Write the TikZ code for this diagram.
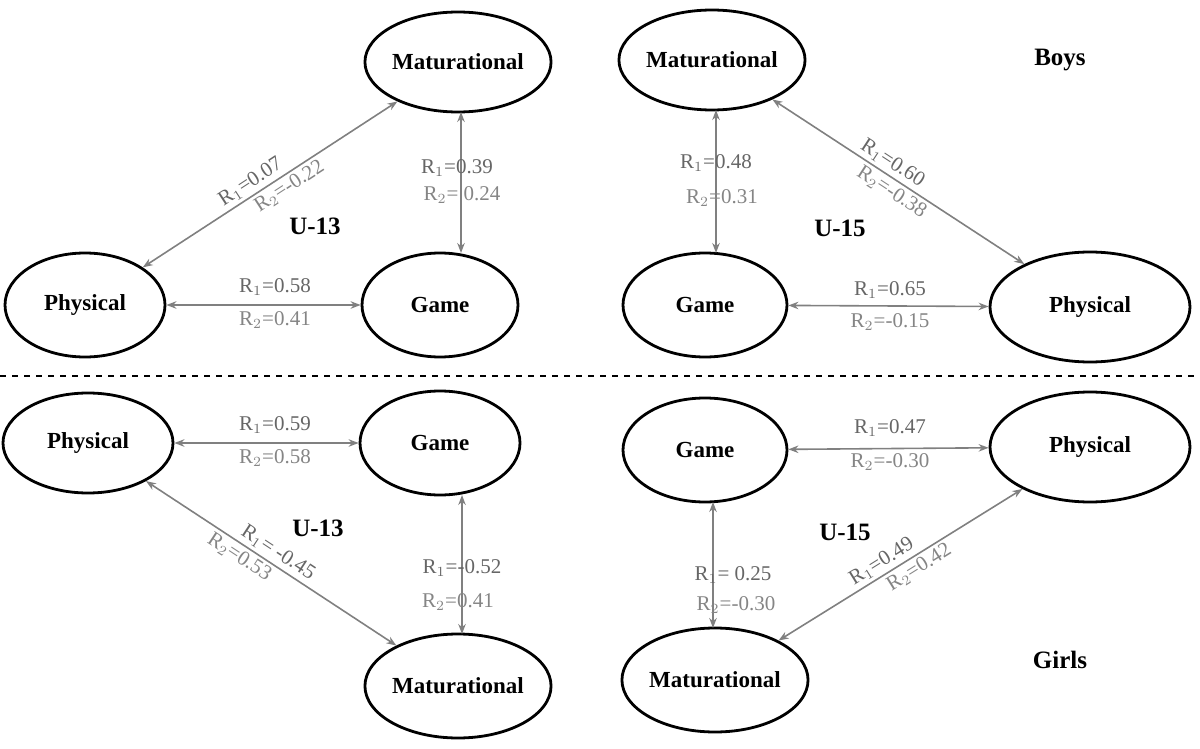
\documentclass[tikz,border=0pt]{standalone}
\usepackage{fontspec}
\setmainfont{Liberation Serif}
\usetikzlibrary{shapes.geometric,arrows.meta}
\begin{document}
\begin{tikzpicture}[x=0.5pt,y=-0.5pt,
  ell/.style={draw,line width=1.4pt,ellipse,inner sep=0pt,font=\fontsize{11.5}{13}\selectfont\bfseries},
  lnk/.style={draw=gray,line width=0.8pt,{Stealth[length=5pt]}-{Stealth[length=5pt]}},
  ra/.style={text=black!60,font=\fontsize{10.5}{12}\selectfont,inner sep=1.5pt},
  rb/.style={text=black!48,font=\fontsize{10.5}{12}\selectfont,inner sep=1.5pt},
  grp/.style={font=\fontsize{12.5}{14}\selectfont\bfseries}]
\useasboundingbox (0,0) rectangle (1200,749);
% Boys U-13
\node[ell,minimum width=88pt,minimum height=50pt] (m1) at (458,62) {Maturational};
\node[ell,minimum width=80pt,minimum height=52pt] (p1) at (85,305) {Physical};
\node[ell,minimum width=78pt,minimum height=52pt] (g1) at (440,305) {Game};
\draw[lnk] (p1) -- node[ra,sloped,above,pos=0.45] (a1) {R$_1$=0.07} node[rb,sloped,below,pos=0.55] (b1) {R$_2$=-0.22} (m1);
\draw[lnk] (p1) -- (g1);
\coordinate (m1b) at (461,112); \coordinate (g1t) at (461,253);
\draw[lnk] (m1b) -- (g1t);
\node[ra] (a2) at (457,168) {R$_1$=0.39};
\node[rb] (b2) at (462,195) {R$_2$= 0.24};
\node[ra] (a3) at (275,287) {R$_1$=0.58};
\node[rb] (b3) at (275,320) {R$_2$=0.41};
\node[grp] (u1) at (315,226) {U-13};
% Boys U-15
\node[ell,minimum width=88pt,minimum height=50pt] (m2) at (712,60) {Maturational};
\node[ell,minimum width=82pt,minimum height=52pt] (g2) at (705,305) {Game};
\node[ell,minimum width=100pt,minimum height=55pt] (p2) at (1090,307) {Physical};
\coordinate (m2b) at (716,110); \coordinate (g2t) at (716,253);
\draw[lnk] (m2b) -- (g2t);
\draw[lnk] (m2) -- node[ra,sloped,above,pos=0.45] (a5) {R$_1$=0.60} node[rb,sloped,below,pos=0.5] (b5) {R$_2$=-0.38} (p2);
\draw[lnk] (g2) -- (p2);
\node[ra] (a4) at (716,163) {R$_1$=0.48};
\node[rb] (b4) at (722,198) {R$_2$=0.31};
\node[ra] (a6) at (890,290) {R$_1$=0.65};
\node[rb] (b6) at (890,322) {R$_2$=-0.15};
\node[grp] (u2) at (840,228) {U-15};
\node[grp] (boys) at (1060,60) {Boys};
\draw[dashed,line width=0.9pt] (0,376) -- (1200,376);
% Girls U-13
\node[ell,minimum width=85pt,minimum height=50pt] (p3) at (88,443) {Physical};
\node[ell,minimum width=80pt,minimum height=52pt] (g3) at (440,443) {Game};
\node[ell,minimum width=88pt,minimum height=52pt] (m3) at (458,686) {Maturational};
\draw[lnk] (p3) -- (g3);
\coordinate (g3b) at (462,495); \coordinate (m3t) at (462,634);
\draw[lnk] (g3b) -- (m3t);
\draw[lnk] (p3) -- node[ra,sloped,above,pos=0.5] (a9) {R$_1$= -0.45} node[rb,sloped,below,pos=0.4] (b9) {R$_2$=0.53} (m3);
\node[ra] (a7) at (275,425) {R$_1$=0.59};
\node[rb] (b7) at (275,458) {R$_2$=0.58};
\node[ra] (a8) at (462,568) {R$_1$=-0.52};
\node[rb] (b8) at (458,602) {R$_2$=0.41};
\node[grp] (u3) at (318,528) {U-13};
% Girls U-15
\node[ell,minimum width=82pt,minimum height=52pt] (g4) at (705,450) {Game};
\node[ell,minimum width=100pt,minimum height=55pt] (p4) at (1090,447) {Physical};
\node[ell,minimum width=88pt,minimum height=52pt] (m4) at (715,680) {Maturational};
\draw[lnk] (g4) -- (p4);
\coordinate (g4b) at (713,502); \coordinate (m4t) at (713,628);
\draw[lnk] (g4b) -- (m4t);
\draw[lnk] (m4) -- node[ra,sloped,above,pos=0.45] (a12) {R$_1$=0.49} node[rb,sloped,below,pos=0.55] (b12) {R$_2$=0.42} (p4);
\node[ra] (a10) at (890,428) {R$_1$=0.47};
\node[rb] (b10) at (890,462) {R$_2$=-0.30};
\node[ra] (a11) at (733,575) {R$_1$= 0.25};
\node[rb] (b11) at (736,605) {R$_2$=-0.30};
\node[grp] (u4) at (845,532) {U-15};
\node[grp] (girls) at (1060,660) {Girls};
\end{tikzpicture}
\end{document}
